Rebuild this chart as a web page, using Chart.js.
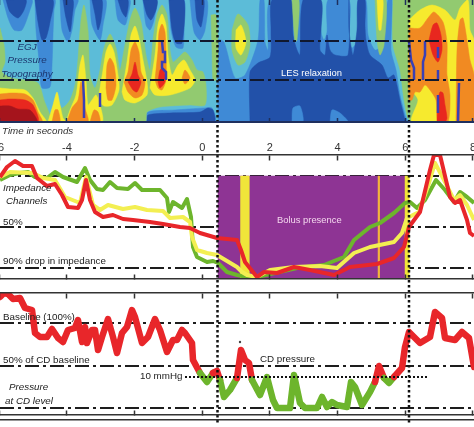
<!DOCTYPE html>
<html>
<head>
<meta charset="utf-8">
<title>Esophageal impedance and pressure topography</title>
<script src="https://cdn.jsdelivr.net/npm/chart.js@4"></script>
<style>
html,body{margin:0;padding:0;background:#fff;overflow:hidden}
#wrap{position:relative;width:474px;height:427px}
</style>
</head>
<body>
<div id="wrap"><canvas id="c" width="474" height="427"></canvas></div>
<script>
// Time axis, seconds
const timeTicks = [-6, -4, -2, 0, 2, 4, 6, 8];

// Reference levels in each panel
const egjLevels = [41, 80];
const impedanceLevels = [103, 52, 11];
const pressureLevels = [92, 49, 7];
const tenMmHg = 38;

// Event markers, in recording frames
const swallowStart = 217.5;
const swallowEnd = 409;

// Pressure topography contours: [frame, sensor position] pairs, one list per isobar
const heatMid = [
  [3,0, 8,18, 14,30, 22,30, 30,10, 32,0],
  [35,0, 36,30, 39,60, 40,75, 42,88, 50,87, 52,65, 53,35, 54,10, 55,0],
  [60,0, 62,30, 68,42, 72,30, 75,10, 78,0],
  [90,0, 92,25, 100,40, 103,25, 106,0],
  [115,0, 118,20, 125,25, 128,15, 130,0],
  [143,0, 146,25, 150,30, 154,20, 156,0],
  [169,0, 171,30, 176,47, 183,48, 184,20, 184,0],
  [190,0, 194,32, 200,40, 205,30, 207,0],
  [146,122, 148,112, 175,110, 204,108, 212,108, 215,122],
  [125,122, 127,114, 135,118, 137,122],
  [218,122, 218,40, 224,42, 235,78, 245,75, 258,40, 260,0, 264,0, 265,42, 268,50, 270,0, 302,0, 320,0, 321,32, 324,40, 327,32, 328,0, 349,0, 349,40, 352,48, 358,40, 358,0, 366,0, 368,35, 375,50, 382,45, 385,20, 388,0, 392,0, 391,50, 396,70, 400,95, 405,115, 407,122]
];
const heatDark = [
  [6,0, 10,12, 18,18, 24,10, 26,0],
  [35,0, 38,22, 42,40, 46,38, 50,22, 53,0],
  [63,0, 66,18, 70,32, 72,18, 73,0],
  [92,0, 95,14, 98,30, 101,20, 102,0],
  [118,0, 122,12, 126,17, 128,0],
  [143,0, 147,15, 151,20, 156,10, 157,0],
  [169,0, 172,30, 176,43, 182,43, 184,0],
  [195,0, 197,20, 201,27, 204,0],
  [147,122, 148,115, 170,113, 200,112, 208,108, 213,110, 214,122],
  [250,122, 250,72, 258,63, 270,57, 271,30, 272,0, 291,0, 293,35, 297,50, 300,55, 303,0, 321,0, 321,30, 320,50, 325,55, 327,35, 330,50, 335,55, 348,55, 349,0, 349,30, 353,55, 357,30, 358,0, 365,0, 365,25, 366,40, 370,55, 382,65, 388,78, 394,75, 400,100, 405,120, 405,122]
];
const heatMidPatches = [
  [292,122, 293,108, 300,106, 303,122],
  [330,122, 332,110, 340,113, 348,122]
];
const heatGreen = [
  [0,28, 4,45, 5,62, 2,72, 12,78, 25,80, 38,83, 44,100, 50,122, 0,122],
  [50,122, 56,100, 62,108, 70,100, 76,80, 81,20, 84,5, 88,30, 90,75, 95,88, 100,70, 104,48, 110,34, 116,48, 120,70, 124,50, 130,20, 135,8, 141,22, 146,55, 150,70, 153,40, 157,15, 162,5, 167,15, 170,50, 173,62, 178,58, 185,52, 192,60, 197,70, 203,72, 206,85, 205,105, 190,105, 160,107, 147,112, 145,122],
  [211,15, 216,15, 218,50, 216,80, 213,80, 212,50],
  [232,30, 238,14, 248,25, 250,45, 245,62, 238,65, 232,50],
  [292,0, 299,0, 297,40, 295,42],
  [375,0, 386,0, 384,45, 380,55, 377,40],
  [393,0, 408,0, 408,118, 404,100, 400,70, 393,45]
];
const heatRightBlock = [409,0, 474,0, 474,122, 409,122];
const heatYellow = [
  [0,88, 10,89, 25,90, 33,98, 40,112, 46,122, 0,122],
  [48,122, 53,105, 57,92, 60,105, 63,118, 66,122],
  [66,122, 70,110, 76,95, 80,65, 83,55, 86,80, 88,105, 92,100, 96,95, 100,105, 102,122],
  [98,100, 103,70, 106,52, 110,44, 114,52, 118,75, 119,90, 112,105, 104,106],
  [122,92, 127,62, 131,35, 135,26, 139,38, 143,60, 147,82, 147,95, 135,103, 125,100],
  [150,88, 155,55, 158,25, 162,14, 166,25, 168,55, 172,75, 178,65, 184,60, 190,70, 195,80, 190,88, 170,95, 155,95],
  [236,30, 241,25, 246,42, 241,55, 236,48],
  [377,0, 383,0, 381,30, 379,30],
  [409,20, 420,10, 432,5, 445,10, 455,20, 460,8, 468,0, 470,30, 474,40, 474,122, 412,122, 418,100, 412,92, 409,95]
];
const heatOrange = [
  [0,94, 12,93, 25,94, 33,100, 38,112, 42,122, 0,122],
  [52,122, 55,110, 58,110, 60,122],
  [67,122, 72,108, 78,100, 81,82, 84,100, 85,108, 88,122],
  [90,122, 94,110, 98,112, 100,122],
  [106,88, 107,65, 110,58, 114,65, 116,85, 112,100, 108,100],
  [124,82, 128,72, 131,50, 135,42, 139,52, 141,72, 145,82, 142,95, 135,98, 128,92],
  [155,80, 158,50, 159,32, 162,24, 165,32, 166,55, 166,80, 162,90, 158,88],
  [182,78, 185,70, 190,78, 185,84],
  [409,28, 420,28, 428,18, 434,12, 443,22, 447,42, 447,60, 447,75, 450,95, 448,122, 438,122, 436,100, 430,90, 425,85, 420,92, 415,92, 412,100, 409,100],
  [456,122, 457,50, 460,20, 463,18, 467,40, 470,60, 474,75, 474,122]
];
const heatRed = [
  [0,100, 10,99, 25,100, 33,105, 38,122, 0,122],
  [128,82, 132,74, 135,62, 138,75, 141,82, 137,92, 133,90],
  [158,82, 160,70, 163,68, 165,75, 165,82, 160,88],
  [429,40, 433,25, 437,23, 441,35, 442,50, 438,62, 433,55],
  [437,122, 438,100, 440,92, 443,93, 445,105, 447,118, 445,122]
];
const heatDeepRed = [
  [0,106, 10,106, 18,109, 30,110, 37,122, 0,122]
];
// Stepped isocontour traces along the high pressure zones
const isoTraces = [
  [83,80, 84,100, 84,118],
  [100,93, 100,107],
  [162,41, 163,52, 165,52, 165,62, 162,62, 162,68, 166,72, 166,80],
  [409,41, 411,60, 414,68, 414,80],
  [425,41, 425,55, 423,62, 423,80],
  [438,47, 438,58],
  [438,70, 438,80],
  [438,95, 438,113],
  [459,83, 458,122]
];

// Impedance channels: [frame, level] pairs
const impedanceGreen = [0,99, 10,104, 20,106, 28,107, 35,102, 47,101, 55,107, 63,102, 77,97, 85,111, 90,99, 97,90, 103,89, 110,97, 117,91, 128,90, 135,96, 142,89, 160,89, 167,81, 169,67, 173,77, 182,71, 187,80, 191,62, 193,32, 197,22, 207,17, 213,18, 218,16, 227,7, 237,4, 247,2, 257,2, 297,11, 324,14, 344,22, 354,39, 370,52, 380,56, 394,66, 405,76, 410,77, 417,71, 425,79, 436,99, 445,89, 454,77, 460,87, 467,82, 474,76];
const impedanceYellow = [0,102, 10,107, 33,106, 43,101, 55,99, 65,82, 80,76, 86,102, 93,74, 100,69, 108,74, 123,70, 135,72, 147,69, 163,68, 170,61, 183,62, 190,57, 192,42, 197,29, 207,26, 217,24, 237,12, 242,7, 247,4, 257,2, 270,9, 294,12, 320,13, 337,11, 354,26, 370,32, 394,37, 402,46, 407,61, 419,67, 429,96, 435,116, 444,99, 454,79, 460,84, 467,74, 474,59];
const impedanceRed = [0,102, 7,112, 15,118, 23,113, 32,113, 37,101, 47,93, 55,95, 62,84, 68,72, 78,71, 82,79, 86,99, 90,79, 95,67, 103,62, 113,64, 123,60, 133,59, 150,57, 163,55, 180,52, 190,51, 200,46, 217,41, 237,39, 241,29, 245,17, 257,2, 264,7, 277,6, 294,12, 310,9, 334,4, 350,12, 377,15, 394,21, 404,32, 409,52, 420,67, 430,109, 434,124, 440,124, 450,82, 455,76, 460,79, 467,59, 470,46, 474,43];

// Bolus presence block and the gaps inside it: [first frame, last frame]
const bolusSpan = [218, 405];
const bolusGaps = [[240.5, 249], [405, 409]];
const bolusThinGap = [378, 379.5];

// Contractile deck pressure: [frame, level] pairs
const pressureCD = [0,118, 4,122, 8,121, 13,116, 20,117, 25,107, 32,105, 35,82, 40,78, 47,78, 52,86, 58,77, 63,73, 68,85, 75,87, 78,95, 82,73, 85,88, 87,72, 92,85, 95,85, 98,65, 102,78, 108,96, 113,78, 117,62, 122,82, 127,88, 132,105, 135,98, 142,72, 148,78, 155,96, 160,85, 167,63, 173,75, 177,75, 182,85, 185,82, 192,72, 193,55, 200,42, 207,33, 213,42, 217,44, 220,35, 224,18, 230,25, 237,37, 241,65, 245,55, 249,52, 252,35, 260,20, 267,38, 273,15, 277,7, 290,7, 294,40, 300,12, 305,7, 317,7, 322,18, 327,8, 332,13, 337,10, 347,8, 351,33, 355,28, 362,10, 370,23, 375,33, 379,49, 384,37, 389,32, 394,38, 402,47, 405,68, 409,83, 420,72, 430,78, 435,103, 442,97, 445,77, 455,75, 462,83, 469,77, 474,48];
const pressureMarker = [240, 73];

// Text placed on the figure
const annotations = [
  {t:'EGJ', x:27, y:47, c:'#1c3770', it:1, a:'center'},
  {t:'Pressure', x:27, y:60, c:'#1c3770', it:1, a:'center'},
  {t:'Topography', x:27, y:74, c:'#1c3770', it:1, a:'center'},
  {t:'Time in seconds', x:2, y:131, c:'#333', it:1},
  {t:'LES relaxation', x:281, y:73, c:'#fff', s:9.4},
  {t:'Impedance', x:3, y:188, c:'#222', it:1},
  {t:'Channels', x:6, y:201, c:'#222', it:1},
  {t:'50%', x:3, y:222, c:'#222'},
  {t:'90% drop in impedance', x:3, y:261, c:'#222'},
  {t:'Bolus presence', x:277, y:220, c:'#f4d6ee', s:9.4},
  {t:'Baseline (100%)', x:3, y:317, c:'#222'},
  {t:'50% of CD baseline', x:3, y:360, c:'#222'},
  {t:'10 mmHg', x:140, y:376, c:'#222'},
  {t:'CD pressure', x:260, y:359, c:'#222'},
  {t:'Pressure', x:9, y:387, c:'#222', it:1},
  {t:'at CD level', x:5, y:401, c:'#222', it:1}
];

const COLORS = {
  cyan:'#5cbcd8', mid:'#3f8ad6', dark:'#2251a9', green:'#92ca70', yellow:'#f6ea2e',
  orange:'#f18a22', red:'#e8271f', deep:'#a5141c', iso:'#3a40b6',
  purple:'#8e3494', stripe:'#f0e53a', thin:'#f2b43c',
  lineRed:'#e8262a', lineYellow:'#f3ef52', lineGreen:'#6db52c', axis:'#333'
};

const pairs = list => {
  const out = [];
  for (let i = 0; i < list.length; i += 2) out.push({x:list[i], y:list[i+1]});
  return out;
};

const datasets = [];
const add = d => {
  // later entries paint over earlier ones
  d.order = -datasets.length;
  d.xAxisID = d.xAxisID || 'xFrame';
  d.pointRadius = d.pointRadius || 0;
  datasets.push(d);
};
const shape = (list, color, yAxisID, tension) => {
  const p = pairs(list);
  p.push(p[0]);
  add({data:p, yAxisID, fill:'shape', backgroundColor:color, borderColor:color, borderWidth:0.5, tension:tension});
};
const level = (v, yAxisID) => add({
  data:[{x:0,y:v},{x:474,y:v}], yAxisID, borderColor:'#1d1d1d', borderWidth:2, borderDash:[14,4,3,4], fill:false
});

// Topography panel
shape([0,0, 474,0, 474,122, 0,122], COLORS.cyan, 'yHeat', 0);
heatMid.forEach(s => shape(s, COLORS.mid, 'yHeat', 0.25));
heatDark.forEach(s => shape(s, COLORS.dark, 'yHeat', 0.25));
heatMidPatches.forEach(s => shape(s, COLORS.mid, 'yHeat', 0.25));
shape(heatRightBlock, COLORS.green, 'yHeat', 0);
heatGreen.forEach(s => shape(s, COLORS.green, 'yHeat', 0.25));
heatYellow.forEach(s => shape(s, COLORS.yellow, 'yHeat', 0.25));
heatOrange.forEach(s => shape(s, COLORS.orange, 'yHeat', 0.25));
heatRed.forEach(s => shape(s, COLORS.red, 'yHeat', 0.25));
heatDeepRed.forEach(s => shape(s, COLORS.deep, 'yHeat', 0.25));
isoTraces.forEach(s => add({data:pairs(s), yAxisID:'yHeat', borderColor:COLORS.iso, borderWidth:2.5, fill:false}));
// keeps rounded contours inside the panel
shape([0,0, 474,0, 474,1, 0,1], '#ffffff', 'yGapA', 0);
egjLevels.forEach(v => add({data:[{x:0,y:v},{x:474,y:v}], yAxisID:'yHeat', borderColor:'#10182e', borderWidth:2, borderDash:[14,4,3,4], fill:false}));

// Impedance panel
impedanceLevels.forEach(v => level(v, 'yImp'));
shape([bolusSpan[0],103, bolusSpan[1],103, bolusSpan[1],0, bolusSpan[0],0], COLORS.purple, 'yImp', 0);
bolusGaps.forEach(g => shape([g[0],103, g[1],103, g[1],0, g[0],0], COLORS.stripe, 'yImp', 0));
shape([bolusThinGap[0],103, bolusThinGap[1],103, bolusThinGap[1],0, bolusThinGap[0],0], COLORS.thin, 'yImp', 0);
add({data:pairs(impedanceGreen), yAxisID:'yImp', borderColor:COLORS.lineGreen, borderWidth:4, fill:false, borderJoinStyle:'round'});
add({data:pairs(impedanceYellow), yAxisID:'yImp', borderColor:COLORS.lineYellow, borderWidth:4, fill:false, borderJoinStyle:'round'});
add({data:pairs(impedanceRed), yAxisID:'yImp', borderColor:COLORS.lineRed, borderWidth:4, fill:false, borderJoinStyle:'round'});

// Pressure panel
pressureLevels.forEach(v => level(v, 'yPress'));
add({
  data:pairs(pressureCD), yAxisID:'yPress', borderColor:COLORS.lineRed, borderWidth:6.5, fill:false,
  borderJoinStyle:'round', borderCapStyle:'round',
  segment:{borderColor:ctx => (ctx.p0.parsed.y + ctx.p1.parsed.y) / 2 < tenMmHg ? COLORS.lineGreen : COLORS.lineRed}
});
add({data:[{x:185,y:tenMmHg},{x:429,y:tenMmHg}], yAxisID:'yPress', borderColor:'#111', borderWidth:2, borderDash:[2,2], fill:false});
add({data:[{x:pressureMarker[0], y:pressureMarker[1]}], yAxisID:'yPress', showLine:false, pointRadius:1.2, pointBackgroundColor:'#444', pointBorderWidth:0});

// Swallow onset and offset run through every panel
[swallowStart, swallowEnd].forEach(x => add({
  data:[{x,y:0},{x,y:425}], yAxisID:'yHeat', borderColor:'#111', borderWidth:2.5, borderDash:[2.5,2.5], fill:false, clip:false
}));

const timeAxis = (panel, value, tickLength, color, width, showLabels) => ({
  type:'linear', axis:'x', min:-5.976, max:8.03,
  position:{[panel]:value},
  afterBuildTicks:s => { s.ticks = timeTicks.map(v => ({value:v})); },
  border:{display:true, color:color, width:width, z:2},
  grid:{drawOnChartArea:false, drawTicks:tickLength !== 0, tickLength:tickLength, tickColor:color, tickWidth:1.5, z:2},
  ticks:{display:!!showLabels, autoSkip:false, maxRotation:0, padding:-19, color:'#333', z:2,
         font:{family:'"Liberation Sans"', size:11}, callback:v => String(v)}
});

const panelAxis = (min, max, weight, extra) => Object.assign(
  {type:'linear', position:'right', stack:'panels', stackWeight:weight, min, max, display:false}, extra || {}
);

new Chart(document.getElementById('c'), {
  type:'line',
  data:{datasets},
  options:{
    responsive:false, animation:false, parsing:true,
    events:[],
    layout:{padding:0, autoPadding:false},
    plugins:{legend:{display:false}, tooltip:{enabled:false}},
    elements:{line:{capBezierPoints:false}},
    scales:{
      yHeat:panelAxis(0, 122, 122, {reverse:true}),
      yGapA:panelAxis(0, 1, 33),
      yImp:panelAxis(0, 124, 124),
      yGapB:panelAxis(0, 1, 14),
      yPress:panelAxis(0, 122, 122),
      yFoot:panelAxis(0, 12, 12),
      xFrame:{type:'linear', axis:'x', position:'bottom', min:0, max:474, display:false},
      xHeatTop:timeAxis('yHeat', 0, 5, '#1e2f5e', 0),
      xHeatBottom:timeAxis('yHeat', 122, -5, '#1e2f5e', 2),
      x:timeAxis('yImp', 124, 5, COLORS.axis, 1.5, true),
      xImpBottom:timeAxis('yImp', 0, -5, COLORS.axis, 1.5),
      xPressTop:timeAxis('yPress', 122, 5, COLORS.axis, 1.5),
      xPressBottom:timeAxis('yPress', 0, -5, COLORS.axis, 1.5),
      xFootLine:timeAxis('yFoot', 7, 0, COLORS.axis, 1.5)
    }
  },
  plugins:[{
    id:'figureText',
    afterDatasetsDraw(chart){
      const ctx = chart.ctx;
      ctx.save();
      ctx.textBaseline = 'middle';
      annotations.forEach(a => {
        ctx.font = (a.it ? 'italic ' : '') + (a.s || 9.8) + 'px "Liberation Sans"';
        ctx.fillStyle = a.c;
        ctx.textAlign = a.a || 'left';
        ctx.fillText(a.t, a.x, a.y);
      });
      ctx.restore();
    }
  }]
});
</script>
</body>
</html>
